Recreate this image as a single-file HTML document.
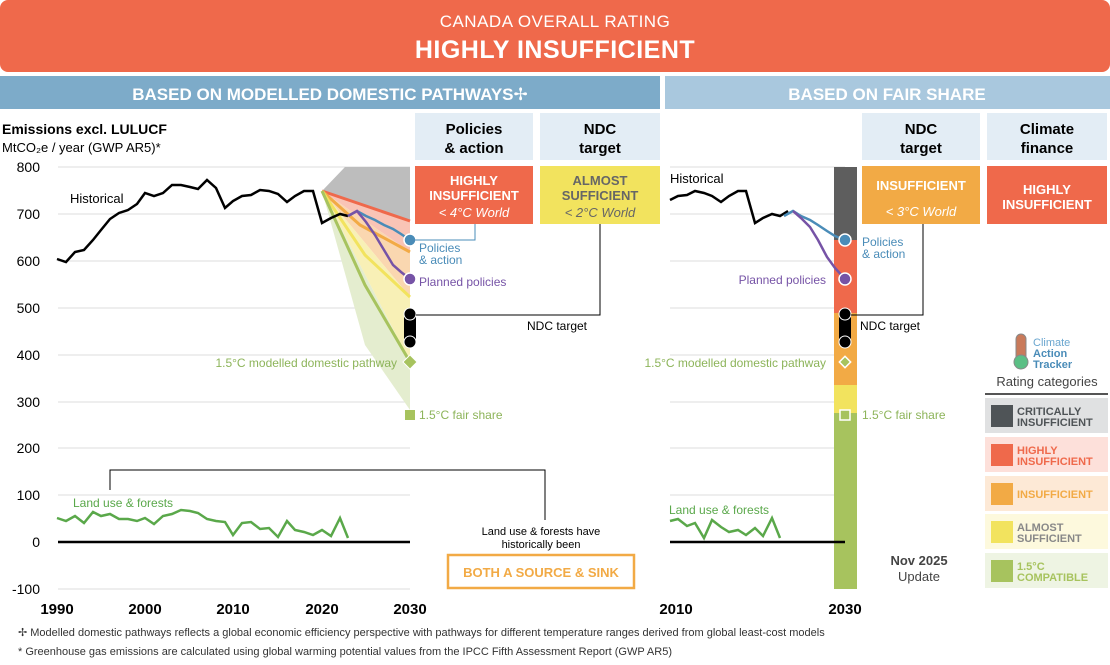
<!DOCTYPE html>
<html><head><meta charset="utf-8"><style>
body{margin:0;width:1110px;height:660px;overflow:hidden;background:#fff;font-family:"Liberation Sans","DejaVu Sans",sans-serif}
svg text{font-family:"Liberation Sans","DejaVu Sans",sans-serif}
</style></head><body>
<svg width="1110" height="660" viewBox="0 0 1110 660" xmlns="http://www.w3.org/2000/svg">
<rect x="0" y="0" width="1110" height="72" rx="8" fill="#ef694b"/>
<text x="555" y="27" text-anchor="middle" fill="#fff" font-size="17" letter-spacing="0.5">CANADA OVERALL RATING</text>
<text x="555" y="58" text-anchor="middle" fill="#fff" font-size="25" font-weight="bold" letter-spacing="0.5">HIGHLY INSUFFICIENT</text>
<rect x="0" y="76" width="660" height="33" fill="#7dabc9"/>
<rect x="665" y="76" width="445" height="33" fill="#a9c8de"/>
<text x="330" y="100" text-anchor="middle" fill="#fff" font-size="17" font-weight="bold">BASED ON MODELLED DOMESTIC PATHWAYS✢</text>
<text x="887" y="100" text-anchor="middle" fill="#fff" font-size="17" font-weight="bold">BASED ON FAIR SHARE</text>
<text x="2" y="134" font-size="14" font-weight="bold">Emissions excl. LULUCF</text>
<text x="2" y="152" font-size="13">MtCO₂e / year (GWP AR5)*</text>
<g stroke="#ddd" stroke-width="1">
<line x1="58" x2="410" y1="167" y2="167"/><line x1="58" x2="410" y1="214" y2="214"/><line x1="58" x2="410" y1="261" y2="261"/><line x1="58" x2="410" y1="308" y2="308"/><line x1="58" x2="410" y1="355" y2="355"/><line x1="58" x2="410" y1="402" y2="402"/><line x1="58" x2="410" y1="448" y2="448"/><line x1="58" x2="410" y1="495" y2="495"/><line x1="58" x2="410" y1="589" y2="589"/>
<line x1="670" x2="845" y1="167" y2="167"/><line x1="670" x2="845" y1="214" y2="214"/><line x1="670" x2="845" y1="261" y2="261"/><line x1="670" x2="845" y1="308" y2="308"/><line x1="670" x2="845" y1="355" y2="355"/><line x1="670" x2="845" y1="402" y2="402"/><line x1="670" x2="845" y1="448" y2="448"/><line x1="670" x2="845" y1="495" y2="495"/>
</g>
<g font-size="14" text-anchor="end"><text x="40" y="172">800</text><text x="40" y="219">700</text><text x="40" y="266">600</text><text x="40" y="313">500</text><text x="40" y="360">400</text><text x="40" y="407">300</text><text x="40" y="453">200</text><text x="40" y="500">100</text><text x="40" y="547">0</text><text x="40" y="594">-100</text></g>
<g font-size="15" font-weight="bold" text-anchor="middle"><text x="57" y="614">1990</text><text x="145" y="614">2000</text><text x="233" y="614">2010</text><text x="322" y="614">2020</text><text x="410" y="614">2030</text><text x="676" y="614">2010</text><text x="845" y="614">2030</text></g>
<polygon points="322,191 345,167 410,167 410,221" fill="#bdbdbd"/>
<polygon points="322,191 410,221 410,252" fill="#f9c4b6"/>
<polygon points="322,191 410,252 410,297" fill="#fad7b0"/>
<polygon points="322,191 410,297 410,362 " fill="#f8f0b6"/>
<polygon points="322,191 365,345 410,410 410,362" fill="#e4edcf"/>
<polyline points="322,191 410,221" stroke="#ef694b" stroke-width="3" fill="none"/>
<polyline points="322,191 360,225 410,252" stroke="#f2aa45" stroke-width="3" fill="none"/>
<polyline points="322,191 365,255 410,297" stroke="#f2e35e" stroke-width="3" fill="none"/>
<polyline points="322,191 365,285 410,362" stroke="#a7c35e" stroke-width="3" fill="none"/>
<polyline fill="none" stroke="#000" stroke-width="2.5" points="57,259 66,262 75,252 84,250 93,240 101,230 110,219 119,213 128,210 137,204 145,193 154,196 163,193 172,185 181,185 190,187 198,189 207,180 216,188 225,208 233,201 242,196 251,195 260,190 269,191 278,194 287,202 295,196 304,191 313,191 322,223 331,218 340,214 348,216"/>
<polyline fill="none" stroke="#4a8cb8" stroke-width="2.5" points="348,216 357,211 366,216 375,220 384,225 393,229 401,234 410,240"/>
<polyline fill="none" stroke="#7653a6" stroke-width="2.5" points="348,216 357,211 366,222 375,235 384,250 393,265 401,272 410,279"/>
<circle cx="410" cy="240" r="6" fill="#4a8cb8" stroke="#fff" stroke-width="1.5"/>
<circle cx="410" cy="279" r="6" fill="#7653a6" stroke="#fff" stroke-width="1.5"/>
<rect x="404" y="314" width="12" height="28" fill="#000"/><circle cx="410" cy="314" r="6" fill="#000" stroke="#fff"/><circle cx="410" cy="342" r="6" fill="#000" stroke="#fff"/>
<rect x="405" y="357" width="10" height="10" fill="#a7c35e" stroke="#fff" transform="rotate(45 410 362)"/>
<rect x="405" y="410" width="10" height="10" fill="#a7c35e"/>
<text x="70" y="203" font-size="13">Historical</text>
<text x="419" y="252" font-size="12" fill="#4a8cb8">Policies</text><text x="419" y="264" font-size="12" fill="#4a8cb8">&amp; action</text>
<text x="419" y="286" font-size="12" fill="#7653a6">Planned policies</text>
<text x="397" y="367" font-size="12" fill="#8db45a" text-anchor="end">1.5°C modelled domestic pathway</text>
<text x="419" y="419" font-size="12" fill="#8db45a">1.5°C fair share</text>
<text x="527" y="330" font-size="12">NDC target</text>
<polyline points="416,315 600,315 600,224" fill="none" stroke="#000" stroke-width="1"/>
<polyline points="410,240 475,240 475,224" fill="none" stroke="#4a8cb8" stroke-width="1"/>
<rect x="415" y="113" width="118" height="47" fill="#e3edf5"/><rect x="540" y="113" width="120" height="47" fill="#e3edf5"/>
<text x="474" y="134" text-anchor="middle" font-size="15" font-weight="bold">Policies</text><text x="474" y="153" text-anchor="middle" font-size="15" font-weight="bold">&amp; action</text>
<text x="600" y="134" text-anchor="middle" font-size="15" font-weight="bold">NDC</text><text x="600" y="153" text-anchor="middle" font-size="15" font-weight="bold">target</text>
<rect x="415" y="166" width="118" height="58" fill="#ef694b"/><rect x="540" y="166" width="120" height="58" fill="#f2e35e"/>
<g text-anchor="middle" font-weight="bold" font-size="13"><text x="474" y="185" fill="#fff">HIGHLY</text><text x="474" y="200" fill="#fff">INSUFFICIENT</text><text x="600" y="185" fill="#666">ALMOST</text><text x="600" y="200" fill="#666">SUFFICIENT</text></g>
<text x="474" y="217" text-anchor="middle" font-size="13" font-style="italic" fill="#fff">&lt; 4°C World</text>
<text x="600" y="217" text-anchor="middle" font-size="13" font-style="italic" fill="#666">&lt; 2°C World</text>
<polyline fill="none" stroke="#5aa84a" stroke-width="2.5" points="57,518 66,521 75,516 84,523 93,512 101,516 110,514 119,519 128,519 137,521 145,518 154,524 163,516 172,514 181,510 190,511 198,513 207,519 216,521 225,522 233,535 242,523 251,522 260,529 269,528 278,537 287,521 295,530 304,532 313,535 322,530 331,536 340,518 348,538"/>
<line x1="58" x2="410" y1="542" y2="542" stroke="#000" stroke-width="2.5"/>
<text x="73" y="507" font-size="12" fill="#5aa84a">Land use &amp; forests</text>
<polyline points="110,490 110,470 545,470 545,520" fill="none" stroke="#000" stroke-width="1"/>
<text x="541" y="535" text-anchor="middle" font-size="11">Land use &amp; forests have</text>
<text x="541" y="548" text-anchor="middle" font-size="11">historically been</text>
<rect x="448" y="555" width="186" height="33" fill="#fff" stroke="#f2aa45" stroke-width="2.5"/>
<text x="541" y="577" text-anchor="middle" font-size="13" font-weight="bold" fill="#f2aa45">BOTH A SOURCE &amp; SINK</text>
<rect x="834" y="167" width="23" height="73" fill="#5e5e5e"/>
<rect x="834" y="240" width="23" height="73" fill="#ef694b"/>
<rect x="834" y="313" width="23" height="72" fill="#f2aa45"/>
<rect x="834" y="385" width="23" height="28" fill="#f2e35e"/>
<rect x="834" y="413" width="23" height="176" fill="#a7c35e"/>
<polyline fill="none" stroke="#000" stroke-width="2.5" points="670,200 678,196 687,195 695,191 704,193 712,196 721,202 729,196 738,191 746,191 755,223 763,218 772,214 780,216 788,211"/>
<polyline fill="none" stroke="#4a8cb8" stroke-width="2.5" points="784,216 793,211 801,216 810,220 818,225 827,231 835,236 845,240"/>
<polyline fill="none" stroke="#7653a6" stroke-width="2.5" points="793,211 801,218 810,227 818,240 827,257 835,268 845,279"/>
<circle cx="845" cy="240" r="6" fill="#4a8cb8" stroke="#fff" stroke-width="1.5"/>
<circle cx="845" cy="279" r="6" fill="#7653a6" stroke="#fff" stroke-width="1.5"/>
<rect x="839" y="314" width="12" height="28" fill="#000"/><circle cx="845" cy="314" r="6" fill="#000" stroke="#fff"/><circle cx="845" cy="342" r="6" fill="#000" stroke="#fff"/>
<rect x="841" y="358" width="8" height="8" fill="#a7c35e" stroke="#fff" stroke-width="1.5" transform="rotate(45 845 362)"/>
<rect x="840" y="410" width="10" height="10" fill="#a7c35e" stroke="#fff" stroke-width="1.5"/>
<text x="670" y="183" font-size="13">Historical</text>
<text x="862" y="246" font-size="12" fill="#4a8cb8">Policies</text><text x="862" y="258" font-size="12" fill="#4a8cb8">&amp; action</text>
<text x="826" y="284" font-size="12" fill="#7653a6" text-anchor="end">Planned policies</text>
<text x="826" y="367" font-size="12" fill="#8db45a" text-anchor="end">1.5°C modelled domestic pathway</text>
<text x="862" y="419" font-size="12" fill="#8db45a">1.5°C fair share</text>
<text x="860" y="330" font-size="12">NDC target</text>
<polyline points="851,315 923,315 923,224" fill="none" stroke="#000" stroke-width="1"/>
<polyline fill="none" stroke="#5aa84a" stroke-width="2.5" points="670,521 678,519 687,526 695,523 704,538 712,520 721,527 729,532 738,530 746,535 755,528 763,536 772,518 780,538"/>
<line x1="670" x2="845" y1="542" y2="542" stroke="#000" stroke-width="2.5"/>
<text x="669" y="514" font-size="12" fill="#5aa84a">Land use &amp; forests</text>
<rect x="862" y="113" width="118" height="47" fill="#e3edf5"/><rect x="987" y="113" width="120" height="47" fill="#e3edf5"/>
<g text-anchor="middle" font-size="15" font-weight="bold"><text x="921" y="134">NDC</text><text x="921" y="153">target</text><text x="1047" y="134">Climate</text><text x="1047" y="153">finance</text></g>
<rect x="862" y="166" width="118" height="58" fill="#f2aa45"/><rect x="987" y="166" width="120" height="58" fill="#ef694b"/>
<text x="921" y="190" text-anchor="middle" font-size="13" font-weight="bold" fill="#fff">INSUFFICIENT</text>
<text x="921" y="216" text-anchor="middle" font-size="13" font-style="italic" fill="#fff">&lt; 3°C World</text>
<text x="1047" y="194" text-anchor="middle" font-size="13" font-weight="bold" fill="#fff">HIGHLY</text><text x="1047" y="209" text-anchor="middle" font-size="13" font-weight="bold" fill="#fff">INSUFFICIENT</text>
<rect x="1016" y="334" width="10" height="30" rx="5" fill="#c97a5a" stroke="#888"/><circle cx="1021" cy="362" r="7" fill="#5bbf85" stroke="#888"/>
<text x="1033" y="346" font-size="11" fill="#6aa6cf">Climate</text><text x="1033" y="357" font-size="11" font-weight="bold" fill="#4a8cb8">Action</text><text x="1033" y="368" font-size="11" font-weight="bold" fill="#4a8cb8">Tracker</text>
<text x="1047" y="386" text-anchor="middle" font-size="13" fill="#444">Rating categories</text>
<line x1="985" y1="394" x2="1108" y2="394" stroke="#555" stroke-width="2"/>
<rect x="985" y="398" width="123" height="35" fill="#e0e1e2"/><rect x="991" y="405" width="22" height="22" fill="#4f5457"/>
<rect x="985" y="437" width="123" height="35" fill="#fde0da"/><rect x="991" y="444" width="22" height="22" fill="#ef694b"/>
<rect x="985" y="476" width="123" height="35" fill="#fde9d6"/><rect x="991" y="483" width="22" height="22" fill="#f2aa45"/>
<rect x="985" y="514" width="123" height="35" fill="#fdf9dd"/><rect x="991" y="521" width="22" height="22" fill="#f2e35e"/>
<rect x="985" y="553" width="123" height="35" fill="#eef4e3"/><rect x="991" y="560" width="22" height="22" fill="#a7c35e"/>
<g font-size="11" font-weight="bold">
<text x="1017" y="415" fill="#4f5457">CRITICALLY</text><text x="1017" y="426" fill="#4f5457">INSUFFICIENT</text>
<text x="1017" y="454" fill="#ef694b">HIGHLY</text><text x="1017" y="465" fill="#ef694b">INSUFFICIENT</text>
<text x="1017" y="498" fill="#f2aa45">INSUFFICIENT</text>
<text x="1017" y="531" fill="#888">ALMOST</text><text x="1017" y="542" fill="#888">SUFFICIENT</text>
<text x="1017" y="570" fill="#a7c35e">1.5°C</text><text x="1017" y="581" fill="#a7c35e">COMPATIBLE</text></g>
<text x="919" y="565" text-anchor="middle" font-size="13" font-weight="bold" fill="#444">Nov 2025</text>
<text x="919" y="581" text-anchor="middle" font-size="13" fill="#444">Update</text>
<text x="18" y="636" font-size="11" fill="#333">✢  Modelled domestic pathways reflects a global economic efficiency perspective with pathways for different temperature ranges derived from global least-cost models</text>
<text x="18" y="655" font-size="11" fill="#333">*  Greenhouse gas emissions are calculated using global warming potential values from the IPCC Fifth Assessment Report (GWP AR5)</text>
</svg>
</body></html>
